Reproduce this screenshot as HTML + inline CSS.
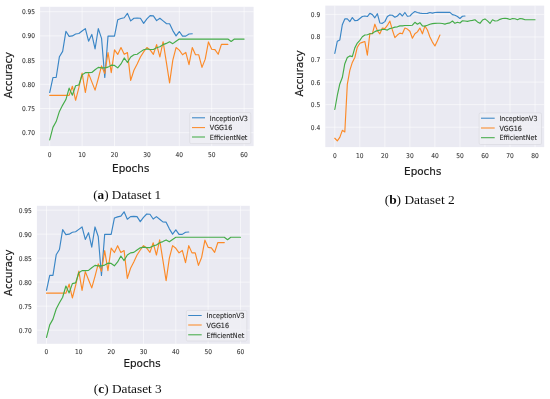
<!DOCTYPE html>
<html><head><meta charset="utf-8"><title>Figure</title>
<style>
html,body{margin:0;padding:0;background:#fff;}
body{width:550px;height:399px;overflow:hidden;}
svg{display:block;}
.tk{font-family:"DejaVu Sans","Liberation Sans",sans-serif;font-size:6.7px;fill:#333;stroke:#333;stroke-width:0.08px;}
.lg{font-family:"DejaVu Sans","Liberation Sans",sans-serif;font-size:7px;fill:#2a2a2a;stroke:#2a2a2a;stroke-width:0.12px;}
.ax{font-family:"DejaVu Sans","Liberation Sans",sans-serif;font-size:10.8px;fill:#1c1c1c;stroke:#1c1c1c;stroke-width:0.2px;}
.cap{font-family:"Liberation Serif","DejaVu Serif",serif;font-size:12.6px;fill:#111;}
</style></head><body>
<svg width="550" height="399" viewBox="0 0 550 399">
<defs><filter id="soft" x="0" y="0" width="550" height="399" filterUnits="userSpaceOnUse"><feGaussianBlur stdDeviation="0.5"/></filter></defs>
<rect width="550" height="399" fill="#fff"/>
<g filter="url(#soft)">
<rect x="40.10" y="6.80" width="213.50" height="139.30" fill="#eaeaf2"/>
<line x1="49.70" y1="6.80" x2="49.70" y2="146.10" stroke="#fff" stroke-opacity="0.62" stroke-width="0.9"/>
<text class="tk" x="47.81" y="156.80" textLength="3.77" lengthAdjust="spacingAndGlyphs">0</text>
<line x1="82.10" y1="6.80" x2="82.10" y2="146.10" stroke="#fff" stroke-opacity="0.62" stroke-width="0.9"/>
<text class="tk" x="78.33" y="156.80" textLength="7.54" lengthAdjust="spacingAndGlyphs">10</text>
<line x1="114.50" y1="6.80" x2="114.50" y2="146.10" stroke="#fff" stroke-opacity="0.62" stroke-width="0.9"/>
<text class="tk" x="110.73" y="156.80" textLength="7.54" lengthAdjust="spacingAndGlyphs">20</text>
<line x1="146.90" y1="6.80" x2="146.90" y2="146.10" stroke="#fff" stroke-opacity="0.62" stroke-width="0.9"/>
<text class="tk" x="143.13" y="156.80" textLength="7.54" lengthAdjust="spacingAndGlyphs">30</text>
<line x1="179.30" y1="6.80" x2="179.30" y2="146.10" stroke="#fff" stroke-opacity="0.62" stroke-width="0.9"/>
<text class="tk" x="175.53" y="156.80" textLength="7.54" lengthAdjust="spacingAndGlyphs">40</text>
<line x1="211.70" y1="6.80" x2="211.70" y2="146.10" stroke="#fff" stroke-opacity="0.62" stroke-width="0.9"/>
<text class="tk" x="207.93" y="156.80" textLength="7.54" lengthAdjust="spacingAndGlyphs">50</text>
<line x1="244.10" y1="6.80" x2="244.10" y2="146.10" stroke="#fff" stroke-opacity="0.62" stroke-width="0.9"/>
<text class="tk" x="240.33" y="156.80" textLength="7.54" lengthAdjust="spacingAndGlyphs">60</text>
<line x1="40.10" y1="132.70" x2="253.60" y2="132.70" stroke="#fff" stroke-opacity="0.62" stroke-width="0.9"/>
<text class="tk" x="21.90" y="135.15" textLength="13.20" lengthAdjust="spacingAndGlyphs">0.70</text>
<line x1="40.10" y1="108.50" x2="253.60" y2="108.50" stroke="#fff" stroke-opacity="0.62" stroke-width="0.9"/>
<text class="tk" x="21.90" y="110.95" textLength="13.20" lengthAdjust="spacingAndGlyphs">0.75</text>
<line x1="40.10" y1="84.30" x2="253.60" y2="84.30" stroke="#fff" stroke-opacity="0.62" stroke-width="0.9"/>
<text class="tk" x="21.90" y="86.75" textLength="13.20" lengthAdjust="spacingAndGlyphs">0.80</text>
<line x1="40.10" y1="60.10" x2="253.60" y2="60.10" stroke="#fff" stroke-opacity="0.62" stroke-width="0.9"/>
<text class="tk" x="21.90" y="62.55" textLength="13.20" lengthAdjust="spacingAndGlyphs">0.85</text>
<line x1="40.10" y1="35.90" x2="253.60" y2="35.90" stroke="#fff" stroke-opacity="0.62" stroke-width="0.9"/>
<text class="tk" x="21.90" y="38.35" textLength="13.20" lengthAdjust="spacingAndGlyphs">0.90</text>
<line x1="40.10" y1="11.70" x2="253.60" y2="11.70" stroke="#fff" stroke-opacity="0.62" stroke-width="0.9"/>
<text class="tk" x="21.90" y="14.15" textLength="13.20" lengthAdjust="spacingAndGlyphs">0.95</text>
<polyline points="49.70,92.53 52.94,77.52 56.18,77.52 59.42,56.71 62.66,51.39 65.90,31.30 69.14,36.38 72.38,35.90 75.62,33.96 78.86,33.48 82.10,31.06 85.34,28.64 88.58,41.22 91.82,34.45 95.06,48.97 98.30,28.64 101.54,38.32 104.78,77.52 108.02,36.14 111.26,36.14 114.50,36.14 117.74,19.69 120.98,18.48 124.22,17.75 127.46,13.39 130.70,20.90 133.94,18.23 137.18,17.99 140.42,18.23 143.66,23.32 146.90,18.96 150.14,15.57 153.38,15.81 156.62,20.65 159.86,18.23 163.10,20.90 166.34,23.56 169.58,23.80 172.82,30.58 176.06,35.90 179.30,31.54 182.54,36.14 185.78,36.14 189.02,33.96 192.26,33.72" fill="none" stroke="#3a86c6" stroke-width="1.15" stroke-linejoin="round" stroke-linecap="round"/>
<polyline points="49.70,95.43 52.94,95.43 56.18,95.43 59.42,95.43 62.66,95.43 65.90,95.43 69.14,95.43 72.38,86.24 75.62,100.27 78.86,87.69 82.10,73.17 85.34,92.53 88.58,73.65 91.82,81.88 95.06,90.11 98.30,78.49 101.54,65.91 104.78,73.41 108.02,52.50 111.26,72.68 114.50,49.94 117.74,54.44 120.98,47.52 124.22,54.29 127.46,52.50 130.70,80.43 133.94,70.26 137.18,63.97 140.42,56.95 143.66,51.87 146.90,47.52 150.14,49.94 153.38,54.29 156.62,44.61 159.86,56.95 163.10,41.71 166.34,62.04 169.58,82.85 172.82,60.10 176.06,47.52 179.30,50.18 182.54,54.78 185.78,52.36 189.02,64.70 192.26,47.52 195.50,54.78 198.74,54.78 201.98,67.36 205.22,59.13 208.46,41.95 211.70,49.21 214.94,49.69 218.18,54.29 221.42,44.37 224.66,44.37 227.90,44.37" fill="none" stroke="#fc8a28" stroke-width="1.15" stroke-linejoin="round" stroke-linecap="round"/>
<polyline points="49.70,139.96 52.94,127.38 56.18,121.57 59.42,111.40 62.66,105.11 65.90,99.55 69.14,88.17 72.38,95.14 75.62,85.75 78.86,85.03 82.10,74.86 85.34,72.68 88.58,72.68 91.82,72.44 95.06,69.78 98.30,67.36 101.54,67.84 104.78,67.84 108.02,67.12 111.26,65.18 114.50,65.42 117.74,67.84 120.98,63.97 124.22,57.92 127.46,62.52 130.70,56.95 133.94,54.78 137.18,54.29 140.42,51.87 143.66,49.69 146.90,48.97 150.14,49.45 153.38,49.45 156.62,47.76 159.86,46.79 163.10,44.61 166.34,43.40 169.58,41.71 172.82,43.64 176.06,41.22 179.30,39.05 182.54,39.05 185.78,39.05 189.02,39.05 192.26,39.05 195.50,39.05 198.74,39.05 201.98,39.05 205.22,39.05 208.46,39.05 211.70,39.05 214.94,39.05 218.18,39.05 221.42,39.05 224.66,39.05 227.90,39.05 231.14,41.47 234.38,39.05 237.62,39.05 240.86,39.05 244.10,39.05" fill="none" stroke="#44ac48" stroke-width="1.15" stroke-linejoin="round" stroke-linecap="round"/>
<rect x="189.70" y="112.60" width="61.10" height="31.00" rx="1.5" fill="#eeeef5" fill-opacity="0.85" stroke="#d6d6de" stroke-width="0.6"/>
<line x1="192.00" y1="117.80" x2="205.00" y2="117.80" stroke="#3a86c6" stroke-width="1.05"/>
<text class="lg" x="209.80" y="120.55" textLength="38.10" lengthAdjust="spacingAndGlyphs">InceptionV3</text>
<line x1="192.00" y1="127.60" x2="205.00" y2="127.60" stroke="#fc8a28" stroke-width="1.05"/>
<text class="lg" x="209.80" y="130.35" textLength="22.40" lengthAdjust="spacingAndGlyphs">VGG16</text>
<line x1="192.00" y1="137.00" x2="205.00" y2="137.00" stroke="#44ac48" stroke-width="1.05"/>
<text class="lg" x="209.80" y="139.75" textLength="37.60" lengthAdjust="spacingAndGlyphs">EfficientNet</text>
<text class="ax" x="112.10" y="171.60" textLength="37.2" lengthAdjust="spacingAndGlyphs">Epochs</text>
<text class="ax" transform="translate(12.30,75.10) rotate(-90)" x="-23.2" textLength="46.4" lengthAdjust="spacingAndGlyphs">Accuracy</text>
<rect x="325.30" y="5.60" width="218.90" height="141.50" fill="#eaeaf2"/>
<line x1="334.80" y1="5.60" x2="334.80" y2="147.10" stroke="#fff" stroke-opacity="0.62" stroke-width="0.9"/>
<text class="tk" x="332.91" y="157.80" textLength="3.77" lengthAdjust="spacingAndGlyphs">0</text>
<line x1="359.83" y1="5.60" x2="359.83" y2="147.10" stroke="#fff" stroke-opacity="0.62" stroke-width="0.9"/>
<text class="tk" x="356.06" y="157.80" textLength="7.54" lengthAdjust="spacingAndGlyphs">10</text>
<line x1="384.86" y1="5.60" x2="384.86" y2="147.10" stroke="#fff" stroke-opacity="0.62" stroke-width="0.9"/>
<text class="tk" x="381.09" y="157.80" textLength="7.54" lengthAdjust="spacingAndGlyphs">20</text>
<line x1="409.89" y1="5.60" x2="409.89" y2="147.10" stroke="#fff" stroke-opacity="0.62" stroke-width="0.9"/>
<text class="tk" x="406.12" y="157.80" textLength="7.54" lengthAdjust="spacingAndGlyphs">30</text>
<line x1="434.92" y1="5.60" x2="434.92" y2="147.10" stroke="#fff" stroke-opacity="0.62" stroke-width="0.9"/>
<text class="tk" x="431.15" y="157.80" textLength="7.54" lengthAdjust="spacingAndGlyphs">40</text>
<line x1="459.95" y1="5.60" x2="459.95" y2="147.10" stroke="#fff" stroke-opacity="0.62" stroke-width="0.9"/>
<text class="tk" x="456.18" y="157.80" textLength="7.54" lengthAdjust="spacingAndGlyphs">50</text>
<line x1="484.98" y1="5.60" x2="484.98" y2="147.10" stroke="#fff" stroke-opacity="0.62" stroke-width="0.9"/>
<text class="tk" x="481.21" y="157.80" textLength="7.54" lengthAdjust="spacingAndGlyphs">60</text>
<line x1="510.01" y1="5.60" x2="510.01" y2="147.10" stroke="#fff" stroke-opacity="0.62" stroke-width="0.9"/>
<text class="tk" x="506.24" y="157.80" textLength="7.54" lengthAdjust="spacingAndGlyphs">70</text>
<line x1="535.04" y1="5.60" x2="535.04" y2="147.10" stroke="#fff" stroke-opacity="0.62" stroke-width="0.9"/>
<text class="tk" x="531.27" y="157.80" textLength="7.54" lengthAdjust="spacingAndGlyphs">80</text>
<line x1="325.30" y1="127.20" x2="544.20" y2="127.20" stroke="#fff" stroke-opacity="0.62" stroke-width="0.9"/>
<text class="tk" x="310.87" y="129.65" textLength="9.43" lengthAdjust="spacingAndGlyphs">0.4</text>
<line x1="325.30" y1="104.64" x2="544.20" y2="104.64" stroke="#fff" stroke-opacity="0.62" stroke-width="0.9"/>
<text class="tk" x="310.87" y="107.09" textLength="9.43" lengthAdjust="spacingAndGlyphs">0.5</text>
<line x1="325.30" y1="82.08" x2="544.20" y2="82.08" stroke="#fff" stroke-opacity="0.62" stroke-width="0.9"/>
<text class="tk" x="310.87" y="84.53" textLength="9.43" lengthAdjust="spacingAndGlyphs">0.6</text>
<line x1="325.30" y1="59.52" x2="544.20" y2="59.52" stroke="#fff" stroke-opacity="0.62" stroke-width="0.9"/>
<text class="tk" x="310.87" y="61.97" textLength="9.43" lengthAdjust="spacingAndGlyphs">0.7</text>
<line x1="325.30" y1="36.96" x2="544.20" y2="36.96" stroke="#fff" stroke-opacity="0.62" stroke-width="0.9"/>
<text class="tk" x="310.87" y="39.41" textLength="9.43" lengthAdjust="spacingAndGlyphs">0.8</text>
<line x1="325.30" y1="14.40" x2="544.20" y2="14.40" stroke="#fff" stroke-opacity="0.62" stroke-width="0.9"/>
<text class="tk" x="310.87" y="16.85" textLength="9.43" lengthAdjust="spacingAndGlyphs">0.9</text>
<polyline points="334.80,53.32 337.30,41.25 339.81,39.89 342.31,24.78 344.81,18.91 347.31,18.91 349.82,21.62 352.32,17.56 354.82,20.63 357.33,20.49 359.83,18.46 362.33,16.54 364.84,15.98 367.34,16.54 369.84,13.36 372.35,14.63 374.85,17.78 377.35,13.72 379.85,22.97 382.36,23.31 384.86,21.62 387.36,16.57 389.87,15.08 392.37,15.30 394.87,17.20 397.38,15.98 399.88,13.36 402.38,15.98 404.88,12.48 407.39,16.30 409.89,15.98 412.39,13.36 414.90,11.47 417.40,12.48 419.90,13.11 422.41,13.50 424.91,13.50 427.41,13.36 429.91,12.48 432.42,13.11 434.92,12.48 437.42,12.37 439.93,12.37 442.43,12.37 444.93,12.37 447.44,12.37 449.94,12.37 452.44,14.63 454.94,15.30 457.45,16.57 459.95,18.46 462.45,16.30 464.96,15.98" fill="none" stroke="#3a86c6" stroke-width="1.15" stroke-linejoin="round" stroke-linecap="round"/>
<polyline points="334.80,138.25 337.30,140.83 339.81,137.35 342.31,130.36 344.81,131.94 347.31,84.34 349.82,70.35 352.32,62.45 354.82,57.49 357.33,47.22 359.83,43.23 362.33,42.37 364.84,41.47 367.34,55.23 369.84,33.58 372.35,33.80 374.85,24.19 377.35,30.64 379.85,33.80 382.36,28.05 384.86,28.61 387.36,25.45 389.87,21.03 392.37,29.97 394.87,37.64 397.38,35.06 399.88,33.12 402.38,33.80 404.88,28.05 407.39,29.06 409.89,31.23 412.39,38.25 414.90,33.80 417.40,31.86 419.90,28.05 422.41,33.80 424.91,26.13 427.41,29.97 429.91,36.96 432.42,42.08 434.92,45.98 437.42,40.80 439.93,35.06" fill="none" stroke="#fc8a28" stroke-width="1.15" stroke-linejoin="round" stroke-linecap="round"/>
<polyline points="334.80,109.51 337.30,95.48 339.81,83.98 342.31,77.57 344.81,63.72 347.31,57.49 349.82,55.91 352.32,56.59 354.82,47.86 357.33,43.05 359.83,40.34 362.33,36.73 364.84,35.04 367.34,34.70 369.84,33.80 372.35,33.46 374.85,31.61 377.35,30.64 379.85,30.19 382.36,29.40 384.86,29.52 387.36,30.08 389.87,28.61 392.37,28.05 394.87,27.15 397.38,26.81 399.88,25.91 402.38,25.91 404.88,25.45 407.39,25.45 409.89,25.45 412.39,25.23 414.90,22.30 417.40,24.21 419.90,22.68 422.41,25.91 424.91,26.13 427.41,25.23 429.91,24.21 432.42,23.58 434.92,23.31 437.42,23.20 439.93,23.20 442.43,23.45 444.93,24.10 447.44,23.31 449.94,22.86 452.44,21.03 454.94,23.31 457.45,22.30 459.95,22.97 462.45,20.76 464.96,21.03 467.46,21.39 469.96,20.76 472.47,20.38 474.97,19.75 477.47,21.91 479.97,23.31 482.48,20.04 484.98,18.91 487.48,20.90 489.99,23.47 492.49,19.75 494.99,21.03 497.50,20.72 500.00,19.36 502.50,18.46 505.00,18.24 507.51,18.64 510.01,19.45 512.51,18.46 515.02,18.73 517.52,19.75 520.02,18.46 522.53,18.91 525.03,19.75 527.53,19.75 530.03,19.75 532.54,19.75 535.04,19.75" fill="none" stroke="#44ac48" stroke-width="1.15" stroke-linejoin="round" stroke-linecap="round"/>
<rect x="479.10" y="112.90" width="62.40" height="31.60" rx="1.5" fill="#eeeef5" fill-opacity="0.85" stroke="#d6d6de" stroke-width="0.6"/>
<line x1="481.00" y1="118.20" x2="494.70" y2="118.20" stroke="#3a86c6" stroke-width="1.05"/>
<text class="lg" x="499.40" y="120.95" textLength="38.10" lengthAdjust="spacingAndGlyphs">InceptionV3</text>
<line x1="481.00" y1="128.00" x2="494.70" y2="128.00" stroke="#fc8a28" stroke-width="1.05"/>
<text class="lg" x="499.40" y="130.75" textLength="22.40" lengthAdjust="spacingAndGlyphs">VGG16</text>
<line x1="481.00" y1="137.70" x2="494.70" y2="137.70" stroke="#44ac48" stroke-width="1.05"/>
<text class="lg" x="499.40" y="140.45" textLength="37.60" lengthAdjust="spacingAndGlyphs">EfficientNet</text>
<text class="ax" x="404.10" y="174.90" textLength="37.2" lengthAdjust="spacingAndGlyphs">Epochs</text>
<text class="ax" transform="translate(302.60,73.40) rotate(-90)" x="-23.2" textLength="46.4" lengthAdjust="spacingAndGlyphs">Accuracy</text>
<rect x="36.90" y="205.80" width="212.90" height="138.00" fill="#eaeaf2"/>
<line x1="46.50" y1="205.80" x2="46.50" y2="343.80" stroke="#fff" stroke-opacity="0.62" stroke-width="0.9"/>
<text class="tk" x="44.61" y="354.20" textLength="3.77" lengthAdjust="spacingAndGlyphs">0</text>
<line x1="78.83" y1="205.80" x2="78.83" y2="343.80" stroke="#fff" stroke-opacity="0.62" stroke-width="0.9"/>
<text class="tk" x="75.06" y="354.20" textLength="7.54" lengthAdjust="spacingAndGlyphs">10</text>
<line x1="111.16" y1="205.80" x2="111.16" y2="343.80" stroke="#fff" stroke-opacity="0.62" stroke-width="0.9"/>
<text class="tk" x="107.39" y="354.20" textLength="7.54" lengthAdjust="spacingAndGlyphs">20</text>
<line x1="143.49" y1="205.80" x2="143.49" y2="343.80" stroke="#fff" stroke-opacity="0.62" stroke-width="0.9"/>
<text class="tk" x="139.72" y="354.20" textLength="7.54" lengthAdjust="spacingAndGlyphs">30</text>
<line x1="175.82" y1="205.80" x2="175.82" y2="343.80" stroke="#fff" stroke-opacity="0.62" stroke-width="0.9"/>
<text class="tk" x="172.05" y="354.20" textLength="7.54" lengthAdjust="spacingAndGlyphs">40</text>
<line x1="208.15" y1="205.80" x2="208.15" y2="343.80" stroke="#fff" stroke-opacity="0.62" stroke-width="0.9"/>
<text class="tk" x="204.38" y="354.20" textLength="7.54" lengthAdjust="spacingAndGlyphs">50</text>
<line x1="240.48" y1="205.80" x2="240.48" y2="343.80" stroke="#fff" stroke-opacity="0.62" stroke-width="0.9"/>
<text class="tk" x="236.71" y="354.20" textLength="7.54" lengthAdjust="spacingAndGlyphs">60</text>
<line x1="36.90" y1="330.15" x2="249.80" y2="330.15" stroke="#fff" stroke-opacity="0.62" stroke-width="0.9"/>
<text class="tk" x="18.70" y="332.60" textLength="13.20" lengthAdjust="spacingAndGlyphs">0.70</text>
<line x1="36.90" y1="306.15" x2="249.80" y2="306.15" stroke="#fff" stroke-opacity="0.62" stroke-width="0.9"/>
<text class="tk" x="18.70" y="308.60" textLength="13.20" lengthAdjust="spacingAndGlyphs">0.75</text>
<line x1="36.90" y1="282.15" x2="249.80" y2="282.15" stroke="#fff" stroke-opacity="0.62" stroke-width="0.9"/>
<text class="tk" x="18.70" y="284.60" textLength="13.20" lengthAdjust="spacingAndGlyphs">0.80</text>
<line x1="36.90" y1="258.15" x2="249.80" y2="258.15" stroke="#fff" stroke-opacity="0.62" stroke-width="0.9"/>
<text class="tk" x="18.70" y="260.60" textLength="13.20" lengthAdjust="spacingAndGlyphs">0.85</text>
<line x1="36.90" y1="234.15" x2="249.80" y2="234.15" stroke="#fff" stroke-opacity="0.62" stroke-width="0.9"/>
<text class="tk" x="18.70" y="236.60" textLength="13.20" lengthAdjust="spacingAndGlyphs">0.90</text>
<line x1="36.90" y1="210.15" x2="249.80" y2="210.15" stroke="#fff" stroke-opacity="0.62" stroke-width="0.9"/>
<text class="tk" x="18.70" y="212.60" textLength="13.20" lengthAdjust="spacingAndGlyphs">0.95</text>
<polyline points="46.50,290.31 49.73,275.43 52.97,275.43 56.20,254.79 59.43,249.51 62.66,229.59 65.90,234.63 69.13,234.15 72.36,232.23 75.60,231.75 78.83,229.35 82.06,226.95 85.30,239.43 88.53,232.71 91.76,247.11 95.00,226.95 98.23,236.55 101.46,275.43 104.69,234.39 107.93,234.39 111.16,234.39 114.39,218.07 117.63,216.87 120.86,216.15 124.09,211.83 127.33,219.27 130.56,216.63 133.79,216.39 137.02,216.63 140.26,221.67 143.49,217.35 146.72,213.99 149.96,214.23 153.19,219.03 156.42,216.63 159.66,219.27 162.89,221.91 166.12,222.15 169.35,228.87 172.59,234.15 175.82,229.83 179.05,234.39 182.29,234.39 185.52,232.23 188.75,231.99" fill="none" stroke="#3a86c6" stroke-width="1.15" stroke-linejoin="round" stroke-linecap="round"/>
<polyline points="46.50,293.19 49.73,293.19 52.97,293.19 56.20,293.19 59.43,293.19 62.66,293.19 65.90,293.19 69.13,284.07 72.36,297.99 75.60,285.51 78.83,271.11 82.06,290.31 85.30,271.59 88.53,279.75 91.76,287.91 95.00,276.39 98.23,263.91 101.46,271.35 104.69,250.61 107.93,270.63 111.16,248.07 114.39,252.53 117.63,245.67 120.86,252.39 124.09,250.61 127.33,278.31 130.56,268.23 133.79,261.99 137.02,255.03 140.26,249.99 143.49,245.67 146.72,248.07 149.96,252.39 153.19,242.79 156.42,255.03 159.66,239.91 162.89,260.07 166.12,280.71 169.35,258.15 172.59,245.67 175.82,248.31 179.05,252.87 182.29,250.47 185.52,262.71 188.75,245.67 191.99,252.87 195.22,252.87 198.45,265.35 201.68,257.19 204.92,240.15 208.15,247.35 211.38,247.83 214.62,252.39 217.85,242.55 221.08,242.55 224.31,242.55" fill="none" stroke="#fc8a28" stroke-width="1.15" stroke-linejoin="round" stroke-linecap="round"/>
<polyline points="46.50,337.35 49.73,324.87 52.97,319.11 56.20,309.03 59.43,302.79 62.66,297.27 65.90,285.99 69.13,292.90 72.36,283.59 75.60,282.87 78.83,272.79 82.06,270.63 85.30,270.63 88.53,270.39 91.76,267.75 95.00,265.35 98.23,265.83 101.46,265.83 104.69,265.11 107.93,263.19 111.16,263.43 114.39,265.83 117.63,261.99 120.86,255.99 124.09,260.55 127.33,255.03 130.56,252.87 133.79,252.39 137.02,249.99 140.26,247.83 143.49,247.11 146.72,247.59 149.96,247.59 153.19,245.91 156.42,244.95 159.66,242.79 162.89,241.59 166.12,239.91 169.35,241.83 172.59,239.43 175.82,237.27 179.05,237.27 182.29,237.27 185.52,237.27 188.75,237.27 191.99,237.27 195.22,237.27 198.45,237.27 201.68,237.27 204.92,237.27 208.15,237.27 211.38,237.27 214.62,237.27 217.85,237.27 221.08,237.27 224.31,237.27 227.55,239.67 230.78,237.27 234.01,237.27 237.25,237.27 240.48,237.27" fill="none" stroke="#44ac48" stroke-width="1.15" stroke-linejoin="round" stroke-linecap="round"/>
<rect x="186.30" y="310.40" width="60.50" height="30.60" rx="1.5" fill="#eeeef5" fill-opacity="0.85" stroke="#d6d6de" stroke-width="0.6"/>
<line x1="188.20" y1="315.50" x2="201.70" y2="315.50" stroke="#3a86c6" stroke-width="1.05"/>
<text class="lg" x="206.60" y="318.25" textLength="38.10" lengthAdjust="spacingAndGlyphs">InceptionV3</text>
<line x1="188.20" y1="325.00" x2="201.70" y2="325.00" stroke="#fc8a28" stroke-width="1.05"/>
<text class="lg" x="206.60" y="327.75" textLength="22.40" lengthAdjust="spacingAndGlyphs">VGG16</text>
<line x1="188.20" y1="334.80" x2="201.70" y2="334.80" stroke="#44ac48" stroke-width="1.05"/>
<text class="lg" x="206.60" y="337.55" textLength="37.60" lengthAdjust="spacingAndGlyphs">EfficientNet</text>
<text class="ax" x="123.40" y="366.70" textLength="37.2" lengthAdjust="spacingAndGlyphs">Epochs</text>
<text class="ax" transform="translate(11.90,272.70) rotate(-90)" x="-23.2" textLength="46.4" lengthAdjust="spacingAndGlyphs">Accuracy</text>
<text class="cap" x="93.20" y="198.80" textLength="68" lengthAdjust="spacingAndGlyphs">(<tspan font-weight="bold">a</tspan>) Dataset 1</text>
<text class="cap" x="384.70" y="203.60" textLength="70" lengthAdjust="spacingAndGlyphs">(<tspan font-weight="bold">b</tspan>) Dataset 2</text>
<text class="cap" x="93.80" y="392.90" textLength="68" lengthAdjust="spacingAndGlyphs">(<tspan font-weight="bold">c</tspan>) Dataset 3</text>
</g>
</svg>
</body></html>
